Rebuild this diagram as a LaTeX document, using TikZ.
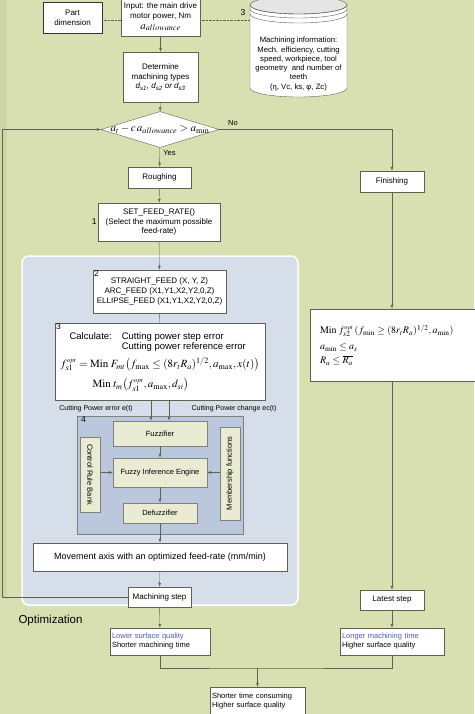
\documentclass[tikz,border=0pt]{standalone}
\usepackage{mathptmx}
\usepackage[no-math]{fontspec}
\setmainfont{Liberation Sans}
\usepackage{tikz}
\usetikzlibrary{shapes,arrows,positioning,calc}
\definecolor{bgolive}{RGB}{216,224,178}
\definecolor{bgstrip}{RGB}{205,214,162}
\definecolor{panelblue}{RGB}{214,222,234}
\definecolor{fuzzblue}{RGB}{186,199,221}
\definecolor{beige}{RGB}{233,235,211}
\definecolor{linegray}{RGB}{95,98,80}
\definecolor{qblue}{RGB}{80,90,190}
\newcommand{\fsz}[1]{\fontsize{#1}{1.2\dimexpr#1pt\relax}\selectfont}
\newcommand{\opt}{{\scriptscriptstyle opt}}

\begin{document}
\begin{tikzpicture}[
    x=1pt, y=-1pt,
    box/.style={rectangle, draw=linegray, fill=white, align=center, inner sep=1pt, font=\fsz{8}},
    fbox/.style={box, fill=beige, draw=gray, font=\fsz{7.5}},
    arrow/.style={->, >=latex, linegray},
    link/.style={linegray},
    dotlink/.style={densely dotted, linegray},
    tag/.style={inner sep=1pt, font=\fsz{8.5}},
    edgetext/.style={text=black, font=\fsz{7.5}}
]
\useasboundingbox (0,0) rectangle (474,714);
\fill[bgolive] (0,0) rectangle (474,714);
\fill[bgstrip] (0,0) rectangle (7,597);

% Inputs
\node[box, draw=black!80, minimum width=59, minimum height=31] (part) at (72.5,17.5) {Part\\dimension};
\node[box, minimum width=79, minimum height=38] (input) at (160.5,17) {Input: the main drive\\motor power, Nm\\[1pt]{\fsz{11}$a_{allowance}$}};

% Machining information (cylinder)
\fill[white] (250,5) -- (250,88) arc[start angle=180, end angle=0, x radius=48.5, y radius=9] -- (347,5) -- cycle;
\draw[linegray] (250,5) -- (250,88) arc[start angle=180, end angle=0, x radius=48.5, y radius=9] -- (347,5);
\filldraw[fill=gray!20, draw=linegray] (298.5,5) ellipse[x radius=48.5, y radius=9];
\draw[linegray] (250,5) arc[start angle=180, end angle=0, x radius=48.5, y radius=9];
\draw[linegray] (250,9) arc[start angle=180, end angle=0, x radius=48.5, y radius=9];
\draw[linegray] (250,14) arc[start angle=180, end angle=0, x radius=48.5, y radius=9];
\node[align=center, font=\fsz{7.7}, inner sep=0pt] (info) at (298.5,64) {Machining information:\\Mech. efficiency, cutting\\speed, workpiece, tool\\geometry\ \ and number of\\teeth\\(η, Vc, ks, φ, Zc)};
\coordinate (infow) at (250,20);
\node[tag] (n3a) at (243,13) {3};

% Main flow
\node[box, minimum width=75, minimum height=50] (determine) at (160.5,77) {Determine\\machining types\\{\itshape d\textsubscript{s1}, d\textsubscript{s2} or d\textsubscript{s3}}};
\node[diamond, draw=linegray, fill=white, minimum width=118, minimum height=36, inner sep=0pt,
      label={center:{\fsz{11}$a_t - c\,a_{allowance} > a_{\min}$}}] (check) at (160,129.5) {};
\node[box, minimum width=63, minimum height=21] (roughing) at (159.5,177.5) {Roughing};
\node[box, minimum width=122, minimum height=38, label={[tag]west:1}] (setfeed) at (159,222) {SET\_FEED\_RATE()\\(Select the maximum possible\\feed-rate)};

% Optimized feed stage
\node[draw=white, line width=1.5pt, fill=panelblue, rounded corners=7pt, minimum width=276, minimum height=349] (stage) at (160,430.5) {};
\node[box, minimum width=133, minimum height=43, label={[tag, anchor=north west]north west:2}] (feed2) at (159.5,291.5) {STRAIGHT\_FEED (X, Y, Z)\\ARC\_FEED (X1,Y1,X2,Y2,0,Z)\\ELLIPSE\_FEED (X1,Y1,X2,Y2,0,Z)};
\node[box, minimum width=210, minimum height=77, align=left, font=\fsz{9.5},
      label={[tag, anchor=north west]north west:3}] (calc) at (160,361.5)
  {\hspace{9pt}\begin{tabular}{@{}l@{\hspace{10pt}}l@{}}Calculate: & Cutting power step error\\[-1pt] & Cutting power reference error\end{tabular}\\[3pt]
   {\fsz{11}$f^{\opt}_{s1} = \mathrm{Min}\; F_{mt}\bigl(f_{\max} \le (8r_tR_a)^{1/2}, a_{\max}, x(t)\bigr)$}\\[6pt]
   \hspace{32pt}{\fsz{11}$\mathrm{Min}\; t_m\bigl(f^{\opt}_{s1}, a_{\max}, d_{si}\bigr)$}};
\node[font=\fsz{7}, inner sep=0pt] (errlbl) at (96,409) {Cutting Power error e(t)};
\node[font=\fsz{7}, inner sep=0pt] (chglbl) at (234,409) {Cutting Power change ec(t)};

% Fuzzy controller
\node[draw=gray, fill=fuzzblue, minimum width=166, minimum height=118, label={[tag, anchor=north west, xshift=3pt]north west:4}] (flc) at (160,475) {};
\node[fbox, minimum width=94, minimum height=25] (fuzzifier) at (160,433.5) {Fuzzifier};
\node[fbox, minimum width=94, minimum height=29] (fie) at (160,472.5) {Fuzzy Inference Engine};
\node[fbox, minimum width=74, minimum height=20] (defuzz) at (160,513) {Defuzzifier};
\node[fbox, minimum width=20, minimum height=75] (rules) at (90,474.5) {\rotatebox{-90}{Control Rule Bank}};
\node[fbox, minimum width=20, minimum height=93] (member) at (230,473.5) {\rotatebox{90}{Membership functions}};

\node[box, minimum width=254, minimum height=28, font=\fsz{9}] (move) at (160,557) {Movement axis with an optimized feed-rate (mm/min)};

% Steps and results
\node[box, minimum width=63, minimum height=20] (machstep) at (159.5,597) {Machining step};
\node[box, minimum width=100, minimum height=27, text width=96, align=left, font=\fsz{7.5}] (lower) at (160,641.5) {\textcolor{qblue}{Lower surface quality}\\Shorter machining time};
\node[box, minimum width=64, minimum height=21] (finishing) at (392,181.5) {Finishing};
\node[box, minimum width=172, minimum height=72, text width=152, align=left, font=\fsz{10}] (minbox) at (396,345)
  {$\mathrm{Min}\; f^{\opt}_{s2}\,(f_{\min} \ge (8r_tR_a)^{1/2}, a_{\min})$\\[4pt]
   $a_{\min} \le a_s$\\[2pt]
   $R_a \le \overline{R_a}$};
\node[box, minimum width=64, minimum height=20] (latest) at (392,600) {Latest step};
\node[box, minimum width=104, minimum height=27, text width=100, align=left, font=\fsz{7.5}] (longer) at (392,641.5) {\textcolor{qblue}{Longer machining time}\\Higher surface quality};
\node[box, minimum width=95, minimum height=28, text width=91, align=left, font=\fsz{7.5}] (final) at (257.5,701) {Shorter time consuming\\Higher surface quality};
\node[font=\fsz{11.5}, inner sep=0pt] (opt) at (50.5,621) {Optimization};

% Connectors
\draw[dotlink] (part.east |- infow) -- (input.west |- infow);
\draw[dotlink] (input.east |- infow) -- (infow);
\draw[arrow] (input) -- (determine);
\draw[arrow] (determine) -- (check);
\draw[arrow] (check) -- node[pos=0.3, right, edgetext] {Yes} (roughing);
\draw[arrow] (check.east) -| node[pos=0.04, above, edgetext] {No} (finishing.north);
\draw[arrow] (roughing) -- (setfeed);
\draw[arrow] (setfeed) -- (feed2);
\draw[link] (feed2) -- (calc);
\draw[arrow] ([xshift=-9pt]calc.south) -- ([xshift=-9pt]fuzzifier.north);
\draw[arrow] ([xshift=9pt]calc.south) -- ([xshift=9pt]fuzzifier.north);
\draw[arrow] (fuzzifier) -- (fie);
\draw[arrow] (fie) -- (defuzz);
\draw[arrow] (rules.east |- fie.west) -- (fie.west);
\draw[arrow] (member.west |- fie.east) -- (fie.east);
\draw[arrow] (defuzz) -- (move);
\draw[arrow] (move) -- (machstep);
\draw[arrow] (machstep) -- (lower);
\coordinate (loopx) at (2,0);
\draw[arrow] (machstep.west) -- (machstep.west -| loopx) |- (check.west);
\draw[arrow] (finishing) -- (minbox.north -| finishing);
\draw[arrow] (minbox.south -| latest) -- (latest);
\draw[arrow] (latest) -- (longer);
\coordinate (merge) at (257.5,668);
\draw[link] (lower.south) |- (merge) -| (longer.south);
\draw[arrow] (merge) -- (final);
\end{tikzpicture}
\end{document}
